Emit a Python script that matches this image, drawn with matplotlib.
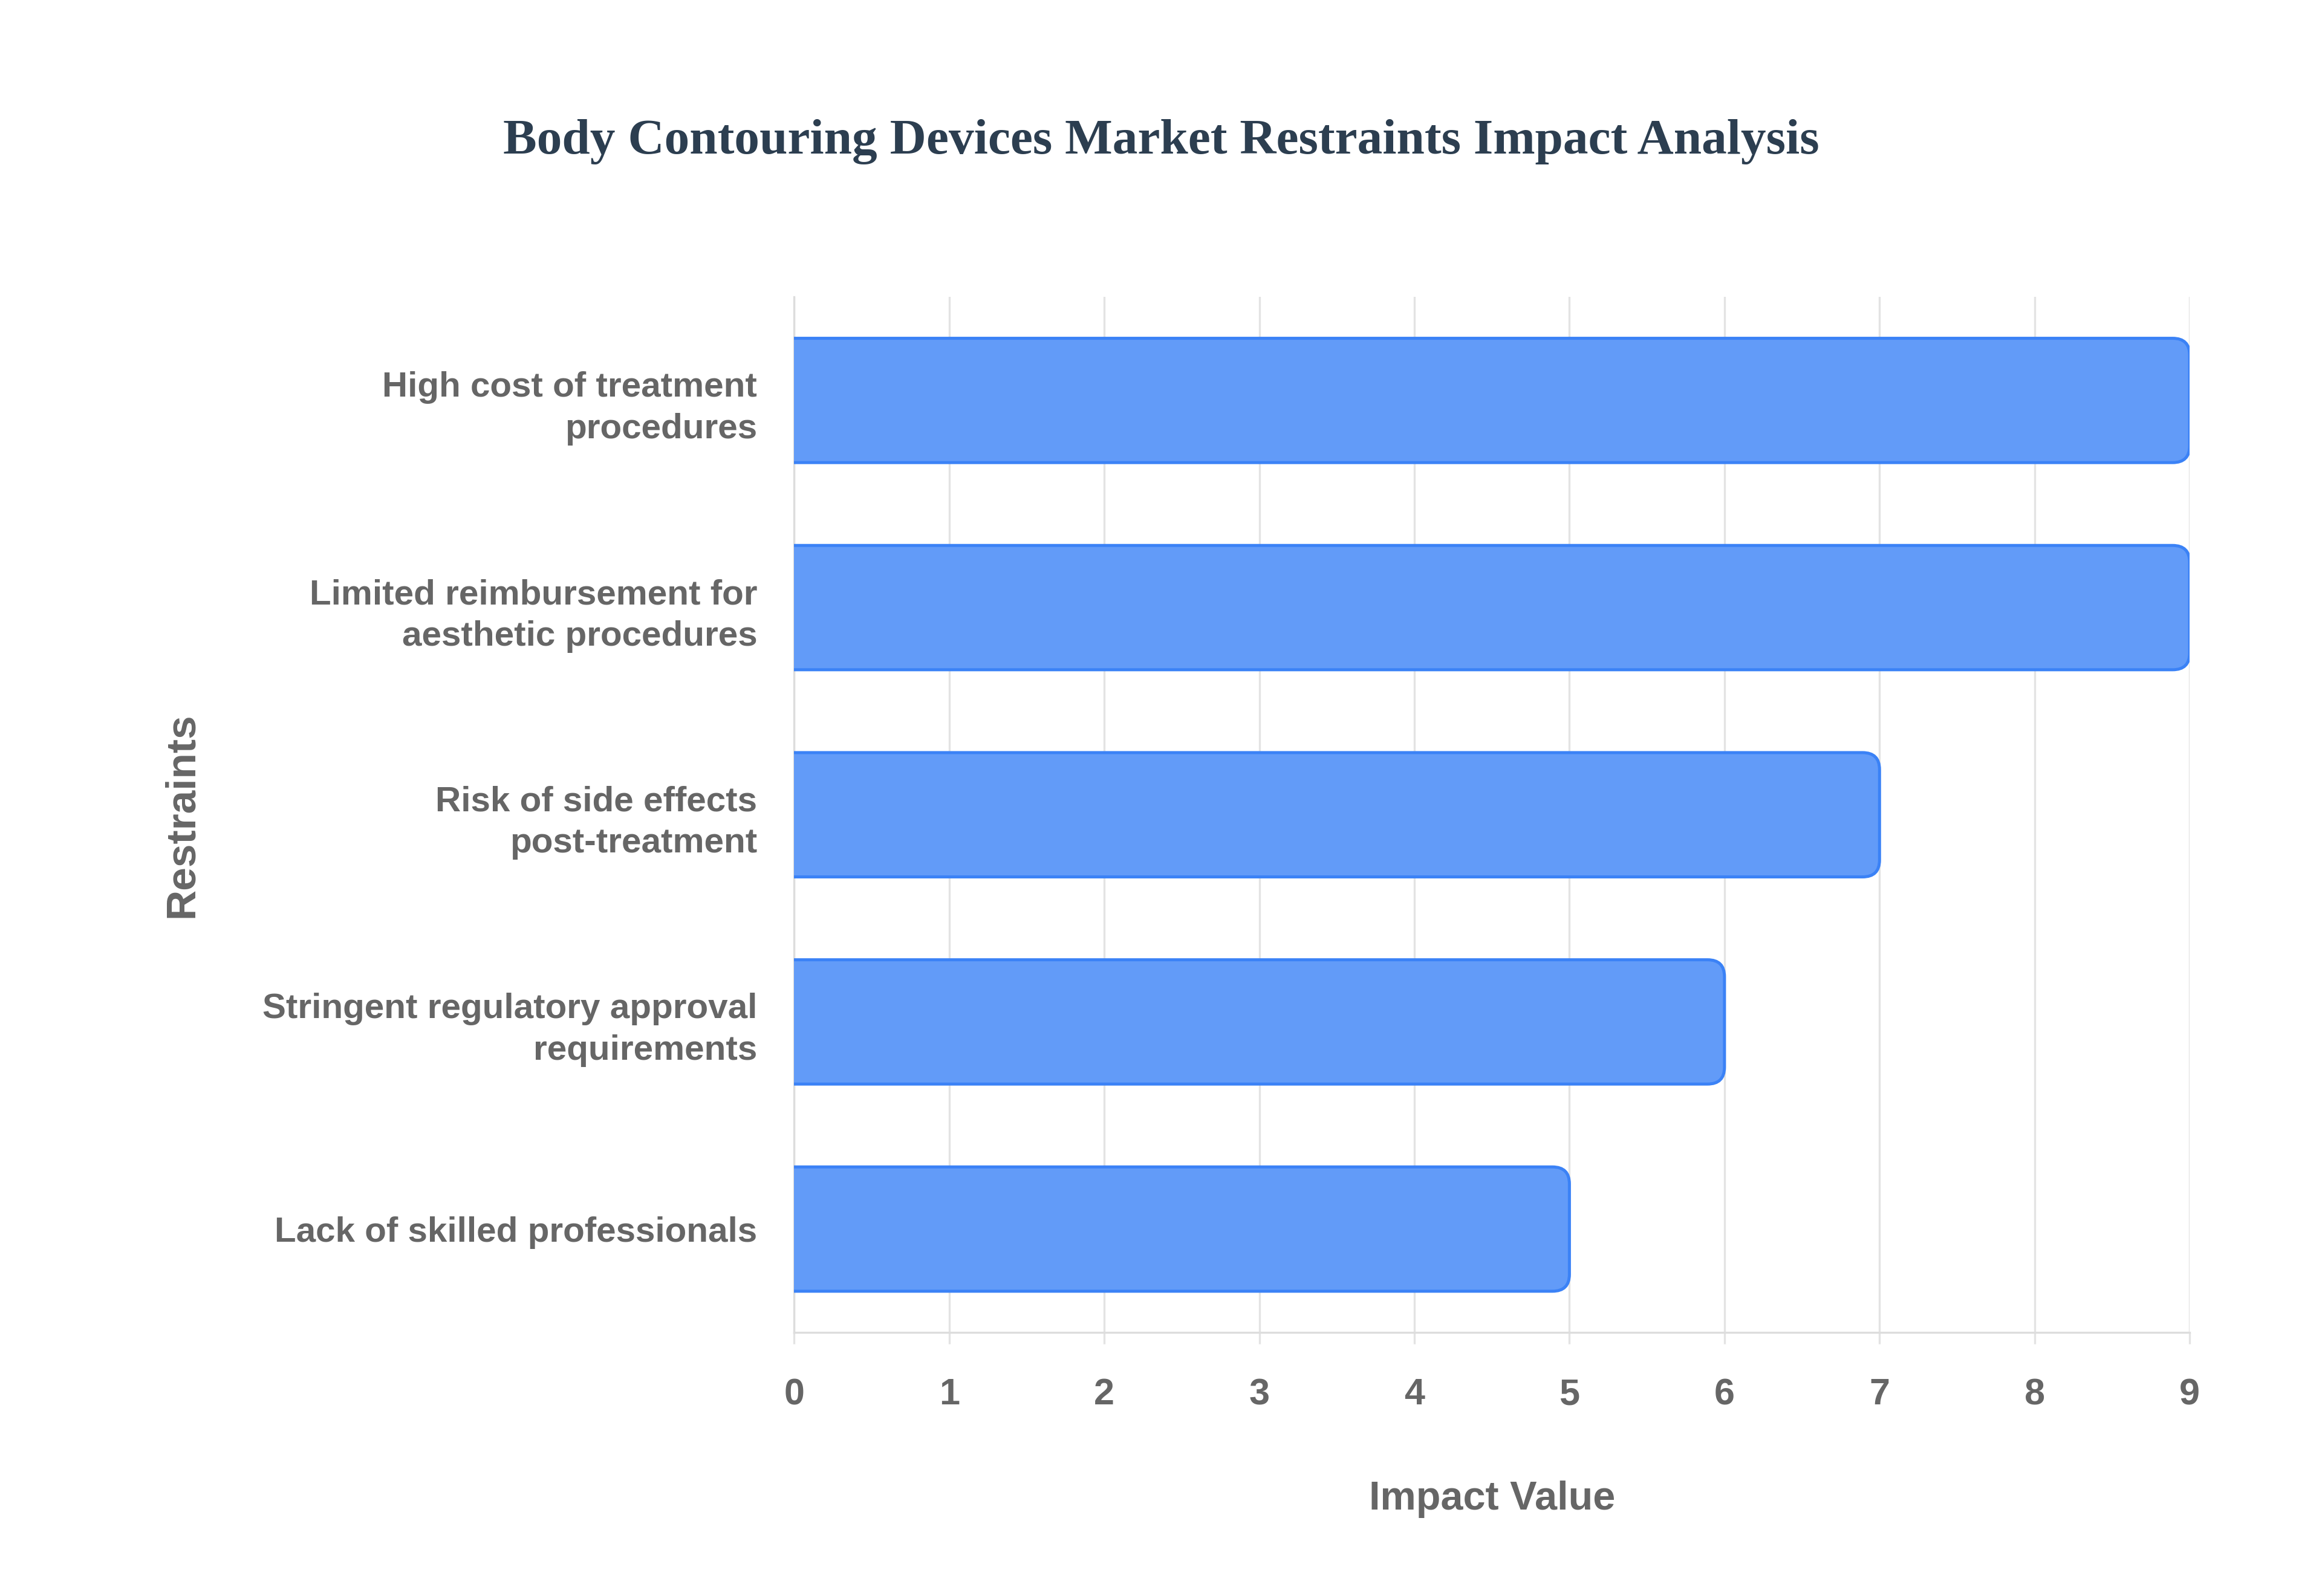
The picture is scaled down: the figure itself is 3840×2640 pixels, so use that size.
import matplotlib.pyplot as plt
from matplotlib.patches import FancyBboxPatch

# data
restraints = [
    "High cost of treatment\nprocedures",
    "Limited reimbursement for\naesthetic procedures",
    "Risk of side effects\npost-treatment",
    "Stringent regulatory approval\nrequirements",
    "Lack of skilled professionals",
]
impact = [9, 9, 7, 6, 5]

plt.rcParams['font.family'] = ['Liberation Sans', 'DejaVu Sans']

fig = plt.figure(figsize=(19.2, 13.2), dpi=200)
ax = fig.add_axes([0.342, 0.165, 0.601, 0.649])

bar_fill = '#629bf8'
bar_edge = '#3b82f6'
text_gray = '#666666'
grid_gray = '#e3e3e3'

ypos = list(range(len(restraints)))
bars = ax.barh(ypos, impact, height=0.6, color='none', edgecolor='none')

ax.set_xlim(0, 9)
ax.set_ylim(-0.5, len(restraints) - 0.5)
ax.invert_yaxis()

# rounded right ends (left end starts outside the axes and is clipped)
x_px = 0.601 * 3840 / 9
y_px = 0.649 * 2640 / len(restraints)
rad = 28 / x_px
for b in bars:
    x0 = b.get_x() - 0.4
    w = b.get_width() + 0.4
    patch = FancyBboxPatch((x0, b.get_y()), w, b.get_height(),
                           boxstyle=f"round,pad=0,rounding_size={rad}",
                           mutation_aspect=x_px / y_px,
                           facecolor=bar_fill, edgecolor=bar_edge,
                           linewidth=1.8, zorder=3)
    ax.add_patch(patch)

ax.set_xticks(range(0, 10))
ax.set_yticks(ypos)
ax.set_yticklabels(restraints, linespacing=1.35)
ax.grid(axis='x', color=grid_gray, linewidth=1.2, zorder=0)
ax.set_axisbelow(True)

for s in ['top', 'right']:
    ax.spines[s].set_visible(False)
for s in ['left', 'bottom']:
    ax.spines[s].set_color('#dddddd')
    ax.spines[s].set_linewidth(1.2)

ax.tick_params(axis='x', length=7, color=grid_gray, width=1.2, pad=20,
               labelsize=22, labelcolor=text_gray)
ax.tick_params(axis='y', length=0, pad=22, labelsize=21, labelcolor=text_gray)
for lab in ax.get_xticklabels() + ax.get_yticklabels():
    lab.set_fontweight('bold')

ax.set_xlabel("Impact Value", fontsize=24, fontweight='bold', color=text_gray)
ax.xaxis.set_label_coords(0.5, -0.143)
ax.set_ylabel("Restraints", fontsize=25, fontweight='bold', color=text_gray)
ax.yaxis.set_label_coords(-0.425, 0.5)

fig.text(0.5, 0.911, "Body Contouring Devices Market Restraints Impact Analysis",
         ha='center', va='center', fontsize=30, fontweight='bold',
         color='#2c3e50', family=['Liberation Serif', 'DejaVu Serif'])

fig.savefig('out.png', dpi=200, facecolor='white')
